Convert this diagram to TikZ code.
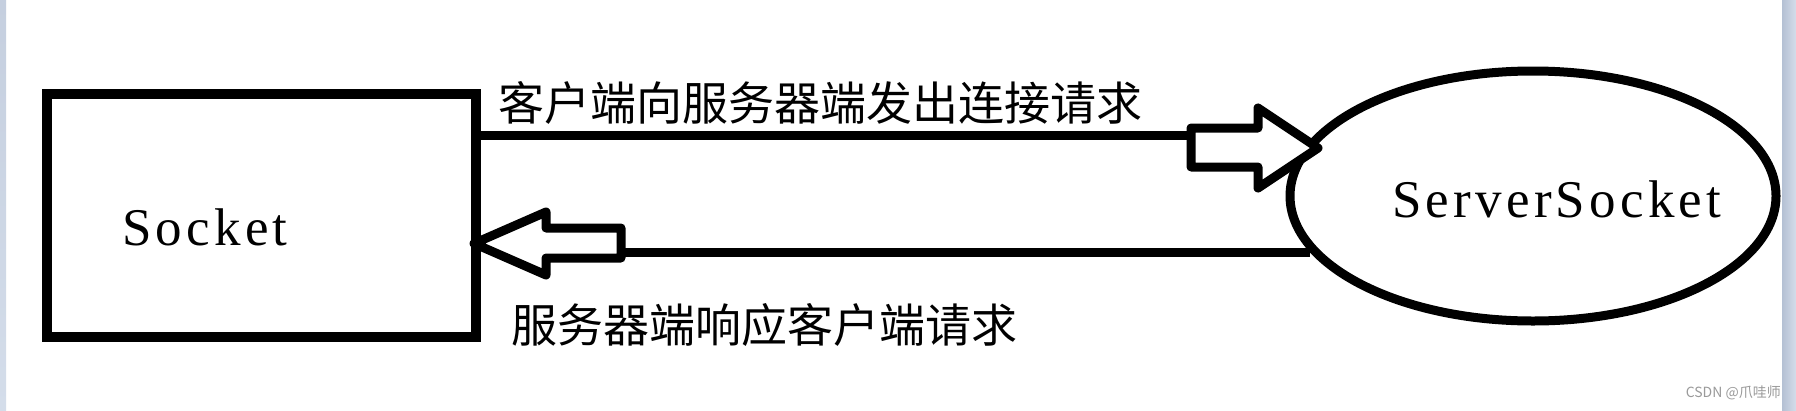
\documentclass[tikz,border=0pt]{standalone}
\usepackage{fontspec}
\setmainfont{Liberation Serif}
\newfontfamily\cjk{Noto Sans CJK SC}
\newfontfamily\lat[LetterSpace=8]{Liberation Serif}
\usetikzlibrary{shapes.geometric}
\definecolor{stripA}{HTML}{C5CFDF}
\definecolor{stripB}{HTML}{D4DDEA}
\definecolor{stripC}{HTML}{B4C0D3}
\definecolor{wmark}{HTML}{9A9A9A}
\begin{document}
\begin{tikzpicture}[x=1pt,y=-1pt,
  boxstyle/.style={draw, line width=10pt, rectangle, minimum width=429pt, minimum height=243pt, inner sep=0pt},
  ellstyle/.style={draw, line width=9pt, ellipse, minimum width=486pt, minimum height=250pt, inner sep=0pt},
  conn/.style={line width=9pt},
  blockarrow/.style={draw, line width=9pt, line join=round, fill=white},
  cn/.style={font=\cjk\fontsize{46}{50}\selectfont, inner sep=0pt},
  lt/.style={font=\lat\fontsize{53}{60}\selectfont, inner sep=0pt, anchor=base west}]
\useasboundingbox (0,0) rectangle (1796,410);
\fill[white] (0,0) rectangle (1796,410);
\shade[top color=stripA, bottom color=stripB] (0,0) rectangle (6,410);
\shade[left color=stripC, right color=stripB] (1782,0) rectangle (1796,410);

\node[boxstyle] (sock) at (261.5,215.5) {};
\node[ellstyle] (srv) at (1533,196) {};
\node[lt] (socklbl) at (122,245) {Socket};
\node[lt] (srvlbl) at (1392,217) {ServerSocket};

% request: Socket -> ServerSocket
\coordinate (a) at (1258,135);
\draw[conn] (a -| sock.east) -- (a);
\coordinate (ua) at (1318,148);
\draw[blockarrow] (1191,128) -- (1258,128) -- (1258,108) -- (ua) -- (1258,188) -- (1258,167) -- (1191,167) -- cycle;

% response: ServerSocket -> Socket
\coordinate (b) at (546,252);
\draw[conn] (b) -- (b -| srv.194.5);
\coordinate (la) at (474,243.5);
\draw[blockarrow] (la) -- (546,212) -- (546,228) -- (621,228) -- (621,258) -- (546,258) -- (546,275) -- cycle;

\node[cn, anchor=west] (t1) at (498,103) {客户端向服务器端发出连接请求};
\node[cn, anchor=west] (t2) at (511,325) {服务器端响应客户端请求};

\node[font=\cjk\fontsize{14}{16}\selectfont, text=wmark, anchor=east, inner sep=0pt] (wm) at (1781,393) {CSDN @爪哇师};
\end{tikzpicture}
\end{document}
